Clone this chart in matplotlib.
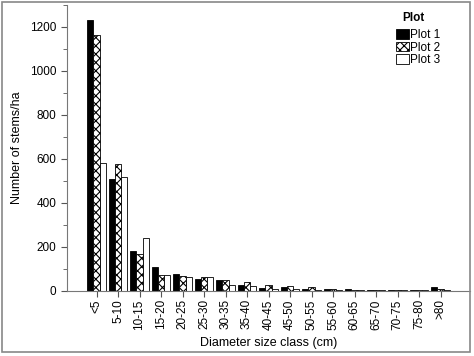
import numpy as np
import matplotlib
matplotlib.use("Agg")
import matplotlib.pyplot as plt
from matplotlib.patches import Rectangle
from matplotlib.ticker import MultipleLocator

classes = ["<5", "5-10", "10-15", "15-20", "20-25", "25-30", "30-35", "35-40",
           "40-45", "45-50", "50-55", "55-60", "60-65", "65-70", "70-75", "75-80", ">80"]
plot1 = [1233, 509, 179, 107, 78, 53, 49, 28, 11, 17, 9, 10, 8, 4, 5, 4, 17]
plot2 = [1163, 575, 167, 73, 66, 65, 49, 42, 28, 22, 17, 10, 6, 3, 4, 6, 8]
plot3 = [582, 520, 240, 73, 61, 65, 26, 20, 8, 9, 5, 5, 3, 2, 2, 2, 3]

plt.rcParams['font.family'] = ['Liberation Sans', 'DejaVu Sans']
plt.rcParams['hatch.linewidth'] = 0.8

fig = plt.figure(figsize=(4.74, 3.56), dpi=100)
ax = fig.add_axes([0.141, 0.183, 0.851, 0.803])

x = np.arange(len(classes))
w = 0.29
ax.bar(x - w, plot1, w, color='black', edgecolor='black', linewidth=0.6, label='Plot 1')
ax.bar(x, plot2, w, color='white', edgecolor='black', hatch='xxxx', linewidth=0.6, label='Plot 2')
ax.bar(x + w, plot3, w, color='white', edgecolor='black', linewidth=0.6, label='Plot 3')

ax.set_xlim(-1.38, len(classes) - 1 + 1.38)
ax.set_ylim(0, 1300)
ax.set_xticks(x)
ax.set_xticklabels(classes, rotation=90, fontsize=8.5)
ax.yaxis.set_major_locator(MultipleLocator(200))
ax.yaxis.set_minor_locator(MultipleLocator(100))
ax.tick_params(axis='y', labelsize=8.5, length=4, color='#555555')
ax.tick_params(axis='y', which='minor', length=3, color='#555555')
ax.tick_params(axis='x', length=4, color='#555555', pad=2)

for s in ['top', 'right']:
    ax.spines[s].set_visible(False)
for s in ['left', 'bottom']:
    ax.spines[s].set_color('#777777')
    ax.spines[s].set_linewidth(0.8)

ax.set_xlabel('Diameter size class (cm)', fontsize=9, labelpad=5)
ax.set_ylabel('Number of stems/ha', fontsize=9, labelpad=5)

leg = ax.legend(loc='upper left', bbox_to_anchor=(396 / 474, 1 - 29 / 356),
                bbox_transform=fig.transFigure, frameon=False,
                fontsize=8.5, handlelength=1.1, handleheight=0.9, handletextpad=0.1,
                labelspacing=0.05, borderaxespad=0, borderpad=0)
fig.text(413 / 474, 1 - 18 / 356, 'Plot', fontsize=8.5, fontweight='bold',
         ha='center', va='center')

fig.patches.append(Rectangle((0.004, 0.012), 0.988, 0.982, transform=fig.transFigure,
                             fill=False, edgecolor='#888888', linewidth=1.2))

fig.savefig('out.png', dpi=100)
